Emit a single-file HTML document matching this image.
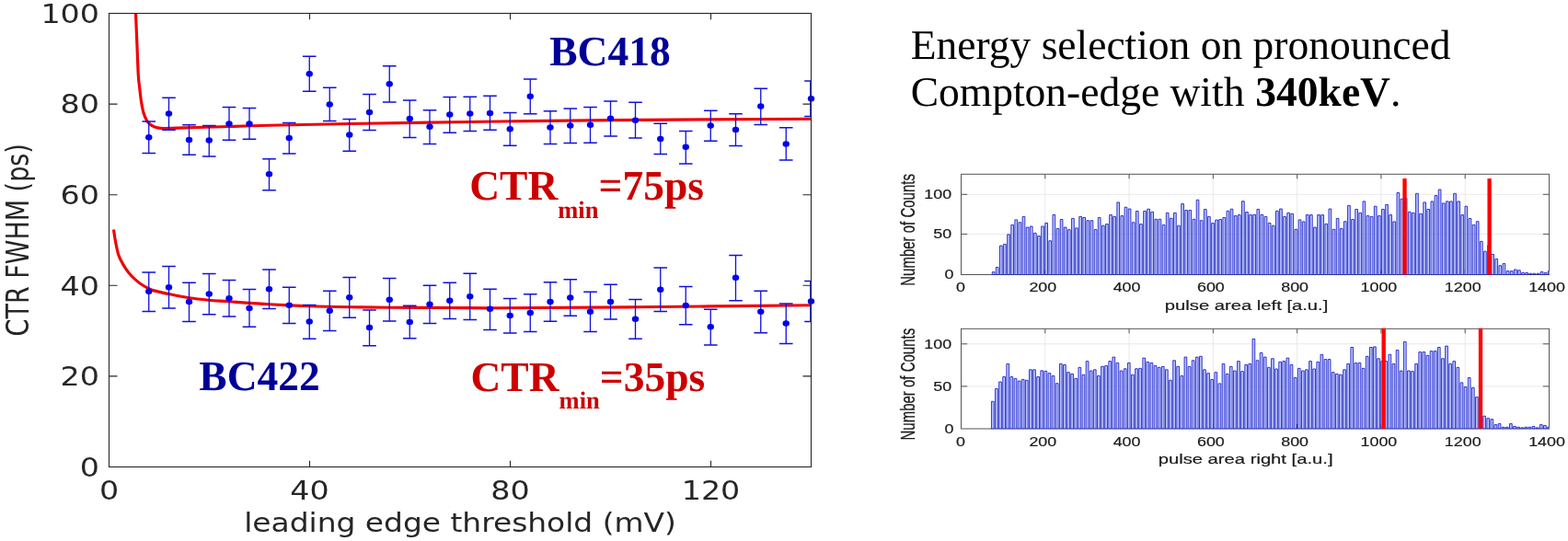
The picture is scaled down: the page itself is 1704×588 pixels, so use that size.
<!DOCTYPE html>
<html lang="en"><head><meta charset="utf-8"><title>CTR FWHM vs leading edge threshold</title>
<style>
html,body{margin:0;padding:0;background:#fff;}
body{width:1704px;height:588px;overflow:hidden;}
svg{display:block;}
</style></head><body>
<svg width="1704" height="588" viewBox="0 0 1704 588" role="img" aria-label="CTR FWHM versus leading edge threshold for BC418 and BC422, with pulse area histograms">
<rect width="1704" height="588" fill="#fff"/>
<defs><clipPath id="cl"><rect x="118.5" y="14.5" width="768.0" height="493.0"/></clipPath></defs>
<g stroke="#f00008" stroke-width="3.2" fill="none" stroke-linejoin="round">
<path d="M147.50,14.20C147.72,19.47 148.33,34.58 148.80,45.80C149.27,57.02 149.83,73.42 150.30,81.50C150.77,89.58 151.08,89.62 151.60,94.30C152.12,98.98 152.68,104.93 153.40,109.60C154.12,114.27 154.85,118.68 155.90,122.30C156.95,125.92 158.22,128.95 159.70,131.30C161.18,133.65 162.88,135.13 164.80,136.40C166.72,137.67 168.85,138.38 171.20,138.90C173.55,139.42 175.50,139.45 178.90,139.50C182.30,139.55 179.92,139.53 191.60,139.20C203.28,138.87 232.18,137.99 249.00,137.50C265.82,137.01 270.67,136.75 292.50,136.25C314.33,135.75 338.25,135.21 380.00,134.50C421.75,133.79 495.83,132.65 543.00,132.00C590.17,131.35 606.58,131.06 663.00,130.60C719.42,130.14 845.08,129.47 881.50,129.25"/>
<path d="M123.50,249.50C123.95,252.25 125.03,260.71 126.20,266.00C127.37,271.29 127.70,275.58 130.50,281.25C133.30,286.92 137.79,294.58 143.00,300.00C148.21,305.42 155.00,310.50 161.75,313.75C168.50,317.00 176.21,317.83 183.50,319.50C190.79,321.17 198.21,322.62 205.50,323.75C212.79,324.88 220.00,325.58 227.25,326.25C234.50,326.92 238.12,327.00 249.00,327.75C259.88,328.50 277.96,329.92 292.50,330.75C307.04,331.58 321.71,332.25 336.25,332.75C350.79,333.25 365.25,333.50 379.75,333.75C394.25,334.00 405.08,334.12 423.25,334.25C441.42,334.38 468.79,334.42 488.75,334.50C508.71,334.58 509.38,334.88 543.00,334.75C576.62,334.62 634.08,334.25 690.50,333.75C746.92,333.25 849.67,332.08 881.50,331.75"/>
</g>
<g stroke="#1010dc" stroke-width="1.3" fill="none">
<path d="M154.45,132.00H169.05M154.45,166.50H169.05M161.75,132.00V166.50"/>
<path d="M176.20,106.25H190.80M176.20,141.25H190.80M183.50,106.25V141.25"/>
<path d="M198.20,135.75H212.80M198.20,168.25H212.80M205.50,135.75V168.25"/>
<path d="M219.95,136.50H234.55M219.95,170.00H234.55M227.25,136.50V170.00"/>
<path d="M241.70,116.50H256.30M241.70,152.25H256.30M249.00,116.50V152.25"/>
<path d="M263.70,117.50H278.30M263.70,151.25H278.30M271.00,117.50V151.25"/>
<path d="M285.20,172.75H299.80M285.20,206.75H299.80M292.50,172.75V206.75"/>
<path d="M306.95,133.50H321.55M306.95,167.00H321.55M314.25,133.50V167.00"/>
<path d="M328.95,61.25H343.55M328.95,99.25H343.55M336.25,61.25V99.25"/>
<path d="M350.95,95.25H365.55M350.95,131.50H365.55M358.25,95.25V131.50"/>
<path d="M372.45,129.50H387.05M372.45,164.25H387.05M379.75,129.50V164.25"/>
<path d="M394.20,102.50H408.80M394.20,141.50H408.80M401.50,102.50V141.50"/>
<path d="M415.95,71.75H430.55M415.95,111.00H430.55M423.25,71.75V111.00"/>
<path d="M437.95,109.00H452.55M437.95,149.50H452.55M445.25,109.00V149.50"/>
<path d="M459.70,119.75H474.30M459.70,156.50H474.30M467.00,119.75V156.50"/>
<path d="M481.45,105.50H496.05M481.45,144.25H496.05M488.75,105.50V144.25"/>
<path d="M503.45,105.25H518.05M503.45,142.50H518.05M510.75,105.25V142.50"/>
<path d="M525.20,104.25H539.80M525.20,141.25H539.80M532.50,104.25V141.25"/>
<path d="M546.95,122.50H561.55M546.95,158.25H561.55M554.25,122.50V158.25"/>
<path d="M568.95,86.00H583.55M568.95,123.75H583.55M576.25,86.00V123.75"/>
<path d="M590.70,120.75H605.30M590.70,156.50H605.30M598.00,120.75V156.50"/>
<path d="M612.45,118.00H627.05M612.45,155.50H627.05M619.75,118.00V155.50"/>
<path d="M634.20,116.50H648.80M634.20,155.25H648.80M641.50,116.50V155.25"/>
<path d="M656.20,110.00H670.80M656.20,148.00H670.80M663.50,110.00V148.00"/>
<path d="M683.20,111.25H697.80M683.20,150.00H697.80M690.50,111.25V150.00"/>
<path d="M710.45,134.25H725.05M710.45,167.50H725.05M717.75,134.25V167.50"/>
<path d="M737.95,142.50H752.55M737.95,178.00H752.55M745.25,142.50V178.00"/>
<path d="M764.95,120.25H779.55M764.95,153.25H779.55M772.25,120.25V153.25"/>
<path d="M792.20,123.75H806.80M792.20,158.50H806.80M799.50,123.75V158.50"/>
<path d="M819.45,96.25H834.05M819.45,135.50H834.05M826.75,96.25V135.50"/>
<path d="M846.95,138.75H861.55M846.95,174.00H861.55M854.25,138.75V174.00"/>
<path d="M874.20,88.00H881.50M874.20,126.50H881.50M880.80,88.00V126.50"/>
<path d="M154.45,296.00H169.05M154.45,338.50H169.05M161.75,296.00V338.50"/>
<path d="M176.20,289.50H190.80M176.20,335.00H190.80M183.50,289.50V335.00"/>
<path d="M198.20,307.25H212.80M198.20,349.50H212.80M205.50,307.25V349.50"/>
<path d="M219.95,297.50H234.55M219.95,341.75H234.55M227.25,297.50V341.75"/>
<path d="M241.70,304.50H256.30M241.70,344.00H256.30M249.00,304.50V344.00"/>
<path d="M263.70,314.50H278.30M263.70,355.25H278.30M271.00,314.50V355.25"/>
<path d="M285.20,293.00H299.80M285.20,335.50H299.80M292.50,293.00V335.50"/>
<path d="M306.95,312.25H321.55M306.95,351.50H321.55M314.25,312.25V351.50"/>
<path d="M328.95,331.50H343.55M328.95,368.25H343.55M336.25,331.50V368.25"/>
<path d="M350.95,316.25H365.55M350.95,359.50H365.55M358.25,316.25V359.50"/>
<path d="M372.45,301.50H387.05M372.45,345.25H387.05M379.75,301.50V345.25"/>
<path d="M394.20,337.00H408.80M394.20,375.75H408.80M401.50,337.00V375.75"/>
<path d="M415.95,302.50H430.55M415.95,349.00H430.55M423.25,302.50V349.00"/>
<path d="M437.95,332.25H452.55M437.95,367.75H452.55M445.25,332.25V367.75"/>
<path d="M459.70,310.25H474.30M459.70,351.50H474.30M467.00,310.25V351.50"/>
<path d="M481.45,307.25H496.05M481.45,346.50H496.05M488.75,307.25V346.50"/>
<path d="M503.45,297.25H518.05M503.45,347.50H518.05M510.75,297.25V347.50"/>
<path d="M525.20,314.25H539.80M525.20,358.50H539.80M532.50,314.25V358.50"/>
<path d="M546.95,324.50H561.55M546.95,362.00H561.55M554.25,324.50V362.00"/>
<path d="M568.95,319.75H583.55M568.95,360.50H583.55M576.25,319.75V360.50"/>
<path d="M590.70,306.75H605.30M590.70,349.25H605.30M598.00,306.75V349.25"/>
<path d="M612.45,303.75H627.05M612.45,343.25H627.05M619.75,303.75V343.25"/>
<path d="M634.20,317.25H648.80M634.20,360.50H648.80M641.50,317.25V360.50"/>
<path d="M656.20,309.25H670.80M656.20,347.00H670.80M663.50,309.25V347.00"/>
<path d="M683.20,325.50H697.80M683.20,368.25H697.80M690.50,325.50V368.25"/>
<path d="M710.45,291.00H725.05M710.45,338.50H725.05M717.75,291.00V338.50"/>
<path d="M737.95,311.50H752.55M737.95,352.75H752.55M745.25,311.50V352.75"/>
<path d="M764.95,336.25H779.55M764.95,375.00H779.55M772.25,336.25V375.00"/>
<path d="M792.20,277.50H806.80M792.20,326.75H806.80M799.50,277.50V326.75"/>
<path d="M819.45,316.25H834.05M819.45,361.75H834.05M826.75,316.25V361.75"/>
<path d="M846.95,330.00H861.55M846.95,373.50H861.55M854.25,330.00V373.50"/>
<path d="M874.20,305.50H881.50M874.20,349.50H881.50M880.80,305.50V349.50"/>
</g>
<g fill="#0000f0">
<ellipse cx="161.75" cy="149.25" rx="3.7" ry="3.2"/>
<ellipse cx="183.50" cy="123.50" rx="3.7" ry="3.2"/>
<ellipse cx="205.50" cy="152.00" rx="3.7" ry="3.2"/>
<ellipse cx="227.25" cy="152.50" rx="3.7" ry="3.2"/>
<ellipse cx="249.00" cy="134.50" rx="3.7" ry="3.2"/>
<ellipse cx="271.00" cy="134.50" rx="3.7" ry="3.2"/>
<ellipse cx="292.50" cy="189.25" rx="3.7" ry="3.2"/>
<ellipse cx="314.25" cy="150.00" rx="3.7" ry="3.2"/>
<ellipse cx="336.25" cy="80.25" rx="3.7" ry="3.2"/>
<ellipse cx="358.25" cy="113.50" rx="3.7" ry="3.2"/>
<ellipse cx="379.75" cy="146.50" rx="3.7" ry="3.2"/>
<ellipse cx="401.50" cy="122.00" rx="3.7" ry="3.2"/>
<ellipse cx="423.25" cy="91.25" rx="3.7" ry="3.2"/>
<ellipse cx="445.25" cy="129.00" rx="3.7" ry="3.2"/>
<ellipse cx="467.00" cy="137.75" rx="3.7" ry="3.2"/>
<ellipse cx="488.75" cy="124.50" rx="3.7" ry="3.2"/>
<ellipse cx="510.75" cy="123.50" rx="3.7" ry="3.2"/>
<ellipse cx="532.50" cy="123.00" rx="3.7" ry="3.2"/>
<ellipse cx="554.25" cy="140.25" rx="3.7" ry="3.2"/>
<ellipse cx="576.25" cy="104.75" rx="3.7" ry="3.2"/>
<ellipse cx="598.00" cy="138.50" rx="3.7" ry="3.2"/>
<ellipse cx="619.75" cy="136.50" rx="3.7" ry="3.2"/>
<ellipse cx="641.50" cy="135.75" rx="3.7" ry="3.2"/>
<ellipse cx="663.50" cy="128.75" rx="3.7" ry="3.2"/>
<ellipse cx="690.50" cy="130.75" rx="3.7" ry="3.2"/>
<ellipse cx="717.75" cy="151.00" rx="3.7" ry="3.2"/>
<ellipse cx="745.25" cy="159.75" rx="3.7" ry="3.2"/>
<ellipse cx="772.25" cy="136.50" rx="3.7" ry="3.2"/>
<ellipse cx="799.50" cy="141.00" rx="3.7" ry="3.2"/>
<ellipse cx="826.75" cy="115.50" rx="3.7" ry="3.2"/>
<ellipse cx="854.25" cy="156.50" rx="3.7" ry="3.2"/>
<ellipse cx="881.50" cy="107.25" rx="3.7" ry="3.2"/>
<ellipse cx="161.75" cy="316.75" rx="3.7" ry="3.2"/>
<ellipse cx="183.50" cy="312.25" rx="3.7" ry="3.2"/>
<ellipse cx="205.50" cy="328.00" rx="3.7" ry="3.2"/>
<ellipse cx="227.25" cy="319.50" rx="3.7" ry="3.2"/>
<ellipse cx="249.00" cy="324.25" rx="3.7" ry="3.2"/>
<ellipse cx="271.00" cy="335.00" rx="3.7" ry="3.2"/>
<ellipse cx="292.50" cy="314.25" rx="3.7" ry="3.2"/>
<ellipse cx="314.25" cy="331.75" rx="3.7" ry="3.2"/>
<ellipse cx="336.25" cy="349.50" rx="3.7" ry="3.2"/>
<ellipse cx="358.25" cy="337.75" rx="3.7" ry="3.2"/>
<ellipse cx="379.75" cy="323.25" rx="3.7" ry="3.2"/>
<ellipse cx="401.50" cy="356.00" rx="3.7" ry="3.2"/>
<ellipse cx="423.25" cy="325.75" rx="3.7" ry="3.2"/>
<ellipse cx="445.25" cy="350.00" rx="3.7" ry="3.2"/>
<ellipse cx="467.00" cy="330.75" rx="3.7" ry="3.2"/>
<ellipse cx="488.75" cy="326.75" rx="3.7" ry="3.2"/>
<ellipse cx="510.75" cy="322.25" rx="3.7" ry="3.2"/>
<ellipse cx="532.50" cy="335.75" rx="3.7" ry="3.2"/>
<ellipse cx="554.25" cy="343.00" rx="3.7" ry="3.2"/>
<ellipse cx="576.25" cy="340.00" rx="3.7" ry="3.2"/>
<ellipse cx="598.00" cy="328.00" rx="3.7" ry="3.2"/>
<ellipse cx="619.75" cy="323.50" rx="3.7" ry="3.2"/>
<ellipse cx="641.50" cy="338.75" rx="3.7" ry="3.2"/>
<ellipse cx="663.50" cy="328.00" rx="3.7" ry="3.2"/>
<ellipse cx="690.50" cy="346.75" rx="3.7" ry="3.2"/>
<ellipse cx="717.75" cy="314.75" rx="3.7" ry="3.2"/>
<ellipse cx="745.25" cy="332.00" rx="3.7" ry="3.2"/>
<ellipse cx="772.25" cy="355.25" rx="3.7" ry="3.2"/>
<ellipse cx="799.50" cy="301.75" rx="3.7" ry="3.2"/>
<ellipse cx="826.75" cy="338.75" rx="3.7" ry="3.2"/>
<ellipse cx="854.25" cy="351.50" rx="3.7" ry="3.2"/>
<ellipse cx="881.50" cy="327.50" rx="3.7" ry="3.2"/>
</g>
<g stroke="#262626" stroke-width="1.1" fill="none">
<rect x="118.5" y="14.5" width="763.0" height="493.0"/>
<path d="M336.50,507.5v-6.8M336.50,14.5v6.8M554.50,507.5v-6.8M554.50,14.5v6.8M772.50,507.5v-6.8M772.50,14.5v6.8M118.5,408.90h9M881.5,408.90h-9M118.5,310.30h9M881.5,310.30h-9M118.5,211.70h9M881.5,211.70h-9M118.5,113.10h9M881.5,113.10h-9"/>
</g>
<g font-family="'DejaVu Sans', sans-serif" font-size="28.5" fill="#262626">
<text transform="translate(108.0,517.80) scale(1.17,1)" text-anchor="end">0</text>
<text transform="translate(108.0,419.20) scale(1.17,1)" text-anchor="end">20</text>
<text transform="translate(108.0,320.60) scale(1.17,1)" text-anchor="end">40</text>
<text transform="translate(108.0,222.00) scale(1.17,1)" text-anchor="end">60</text>
<text transform="translate(108.0,123.40) scale(1.17,1)" text-anchor="end">80</text>
<text transform="translate(108.0,24.80) scale(1.17,1)" text-anchor="end">100</text>
<text transform="translate(118.50,543.3) scale(1.17,1)" text-anchor="middle">0</text>
<text transform="translate(336.50,543.3) scale(1.17,1)" text-anchor="middle">40</text>
<text transform="translate(554.50,543.3) scale(1.17,1)" text-anchor="middle">80</text>
<text transform="translate(772.50,543.3) scale(1.17,1)" text-anchor="middle">120</text>
<text transform="translate(500,578) scale(1.15,1)" font-size="28.6" text-anchor="middle">leading edge threshold (mV)</text>
<text transform="translate(30.8,260.8) rotate(-90) scale(1,1.22)" font-size="27" text-anchor="middle">CTR FWHM (ps)</text>
</g>
<g font-family="'Liberation Serif', serif" font-weight="bold" font-size="45.5" text-rendering="geometricPrecision">
<text transform="translate(597.2,71.0) scale(1,1.006)" fill="#000099">BC418</text>
<text transform="translate(216.3,424.3) scale(1,1.006)" fill="#000099">BC422</text>
<text transform="translate(510.2,216.9) scale(1,1.006)" fill="#cc0000">CTR<tspan font-size="26.5" dy="19.7">min</tspan><tspan dy="-19.7" dx="0">=75ps</tspan></text>
<text transform="translate(511.5,424.8) scale(1,1.006)" fill="#cc0000">CTR<tspan font-size="26.5" dy="18.8">min</tspan><tspan dy="-18.8" dx="0">=35ps</tspan></text>
</g>
<g font-family="'Liberation Serif', serif" font-size="45.5" fill="#000" text-rendering="geometricPrecision">
<text transform="translate(989.7,64.2) scale(1,1.0)">Energy selection on pronounced</text>
<text transform="translate(989.7,114.8) scale(1,1.0)">Compton-edge with <tspan font-weight="bold" dx="0.6">340keV</tspan>.</text>
</g>
<g>
<path d="M1135.79,189.3V298.5M1227.07,189.3V298.5M1318.36,189.3V298.5M1409.64,189.3V298.5M1500.93,189.3V298.5M1592.21,189.3V298.5M1044.5,254.4H1683.5M1044.5,211.3H1683.5" stroke="#e9e9e9" stroke-width="1" fill="none"/>
<g stroke="#555555" stroke-width="1" fill="none">
<rect x="1044.5" y="189.3" width="639.0" height="109.19999999999999"/>
<path d="M1135.79,189.3v5M1135.79,298.5v-5M1227.07,189.3v5M1227.07,298.5v-5M1318.36,189.3v5M1318.36,298.5v-5M1409.64,189.3v5M1409.64,298.5v-5M1500.93,189.3v5M1500.93,298.5v-5M1592.21,189.3v5M1592.21,298.5v-5M1044.5,254.4h6.7M1683.5,254.4h-6.7M1044.5,211.3h6.7M1683.5,211.3h-6.7"/>
</g>
<clipPath id="ct"><rect x="1044.5" y="183.3" width="639.0" height="115.79999999999998"/></clipPath>
<g clip-path="url(#ct)">
<g fill="#b8c8ff" stroke="#1414c4" stroke-width="0.85">
<path d="M1078.25,298.5V295.61h2.7V298.5zM1082.36,298.5V290.51h2.7V298.5zM1086.47,298.5V267.04h2.7V298.5zM1090.58,298.5V265.41h2.7V298.5zM1094.69,298.5V254.80h2.7V298.5zM1098.80,298.5V244.39h2.7V298.5zM1102.91,298.5V238.88h2.7V298.5zM1107.02,298.5V241.73h2.7V298.5zM1111.13,298.5V235.41h2.7V298.5zM1115.24,298.5V247.04h2.7V298.5zM1119.35,298.5V246.02h2.7V298.5zM1123.46,298.5V253.37h2.7V298.5zM1127.57,298.5V256.43h2.7V298.5zM1131.68,298.5V246.02h2.7V298.5zM1135.79,298.5V242.35h2.7V298.5zM1139.90,298.5V261.73h2.7V298.5zM1144.01,298.5V233.37h2.7V298.5zM1148.12,298.5V248.47h2.7V298.5zM1152.23,298.5V238.47h2.7V298.5zM1156.34,298.5V247.04h2.7V298.5zM1160.45,298.5V249.69h2.7V298.5zM1164.56,298.5V237.45h2.7V298.5zM1168.67,298.5V247.86h2.7V298.5zM1172.78,298.5V235.41h2.7V298.5zM1176.89,298.5V236.43h2.7V298.5zM1181.00,298.5V239.69h2.7V298.5zM1185.11,298.5V239.69h2.7V298.5zM1189.22,298.5V249.49h2.7V298.5zM1193.33,298.5V236.43h2.7V298.5zM1197.44,298.5V245.20h2.7V298.5zM1201.55,298.5V243.57h2.7V298.5zM1205.66,298.5V233.57h2.7V298.5zM1209.77,298.5V235.41h2.7V298.5zM1213.88,298.5V219.90h2.7V298.5zM1217.99,298.5V234.59h2.7V298.5zM1222.10,298.5V225.20h2.7V298.5zM1226.21,298.5V227.04h2.7V298.5zM1230.32,298.5V241.73h2.7V298.5zM1234.43,298.5V229.49h2.7V298.5zM1238.54,298.5V243.57h2.7V298.5zM1242.65,298.5V229.49h2.7V298.5zM1246.76,298.5V227.24h2.7V298.5zM1250.87,298.5V230.31h2.7V298.5zM1254.98,298.5V238.27h2.7V298.5zM1259.09,298.5V238.27h2.7V298.5zM1263.20,298.5V244.39h2.7V298.5zM1267.31,298.5V231.33h2.7V298.5zM1271.42,298.5V237.24h2.7V298.5zM1275.53,298.5V231.33h2.7V298.5zM1279.64,298.5V245.20h2.7V298.5zM1283.75,298.5V221.53h2.7V298.5zM1287.86,298.5V228.47h2.7V298.5zM1291.97,298.5V228.47h2.7V298.5zM1296.08,298.5V238.27h2.7V298.5zM1300.19,298.5V217.24h2.7V298.5zM1304.30,298.5V239.69h2.7V298.5zM1308.41,298.5V227.45h2.7V298.5zM1312.52,298.5V235.41h2.7V298.5zM1316.63,298.5V242.55h2.7V298.5zM1320.74,298.5V239.08h2.7V298.5zM1324.85,298.5V238.47h2.7V298.5zM1328.96,298.5V236.43h2.7V298.5zM1333.07,298.5V229.29h2.7V298.5zM1337.18,298.5V227.24h2.7V298.5zM1341.29,298.5V234.59h2.7V298.5zM1345.40,298.5V233.57h2.7V298.5zM1349.51,298.5V218.67h2.7V298.5zM1353.62,298.5V230.51h2.7V298.5zM1357.73,298.5V233.57h2.7V298.5zM1361.84,298.5V233.37h2.7V298.5zM1365.95,298.5V227.45h2.7V298.5zM1370.06,298.5V233.37h2.7V298.5zM1374.17,298.5V235.41h2.7V298.5zM1378.28,298.5V242.35h2.7V298.5zM1382.39,298.5V245.20h2.7V298.5zM1386.50,298.5V229.29h2.7V298.5zM1390.61,298.5V227.04h2.7V298.5zM1394.72,298.5V235.41h2.7V298.5zM1398.83,298.5V231.33h2.7V298.5zM1402.94,298.5V232.35h2.7V298.5zM1407.05,298.5V249.29h2.7V298.5zM1411.16,298.5V238.88h2.7V298.5zM1415.27,298.5V240.92h2.7V298.5zM1419.38,298.5V233.57h2.7V298.5zM1423.49,298.5V233.57h2.7V298.5zM1427.60,298.5V247.04h2.7V298.5zM1431.71,298.5V233.57h2.7V298.5zM1435.82,298.5V233.57h2.7V298.5zM1439.93,298.5V243.37h2.7V298.5zM1444.04,298.5V227.04h2.7V298.5zM1448.15,298.5V249.29h2.7V298.5zM1452.26,298.5V237.45h2.7V298.5zM1456.37,298.5V248.47h2.7V298.5zM1460.48,298.5V240.71h2.7V298.5zM1464.59,298.5V223.37h2.7V298.5zM1468.70,298.5V238.47h2.7V298.5zM1472.81,298.5V227.45h2.7V298.5zM1476.92,298.5V231.33h2.7V298.5zM1481.03,298.5V218.88h2.7V298.5zM1485.14,298.5V234.59h2.7V298.5zM1489.25,298.5V235.41h2.7V298.5zM1493.36,298.5V224.18h2.7V298.5zM1497.47,298.5V234.59h2.7V298.5zM1501.58,298.5V227.45h2.7V298.5zM1505.69,298.5V222.35h2.7V298.5zM1509.80,298.5V233.57h2.7V298.5zM1513.91,298.5V240.92h2.7V298.5zM1518.02,298.5V209.49h2.7V298.5zM1522.13,298.5V216.22h2.7V298.5zM1526.24,298.5V215.61h2.7V298.5zM1530.35,298.5V230.31h2.7V298.5zM1534.46,298.5V231.33h2.7V298.5zM1538.57,298.5V210.31h2.7V298.5zM1542.68,298.5V232.35h2.7V298.5zM1546.79,298.5V219.90h2.7V298.5zM1550.90,298.5V227.45h2.7V298.5zM1555.01,298.5V218.88h2.7V298.5zM1559.12,298.5V212.55h2.7V298.5zM1563.23,298.5V206.02h2.7V298.5zM1567.34,298.5V220.92h2.7V298.5zM1571.45,298.5V218.88h2.7V298.5zM1575.56,298.5V218.88h2.7V298.5zM1579.67,298.5V210.31h2.7V298.5zM1583.78,298.5V218.88h2.7V298.5zM1587.89,298.5V233.57h2.7V298.5zM1592.00,298.5V224.18h2.7V298.5zM1596.11,298.5V237.45h2.7V298.5zM1600.22,298.5V244.39h2.7V298.5zM1604.33,298.5V240.71h2.7V298.5zM1608.44,298.5V262.35h2.7V298.5zM1612.55,298.5V273.16h2.7V298.5zM1616.66,298.5V266.63h2.7V298.5zM1620.77,298.5V276.43h2.7V298.5zM1624.88,298.5V281.53h2.7V298.5zM1628.99,298.5V288.67h2.7V298.5zM1633.10,298.5V286.43h2.7V298.5zM1637.21,298.5V294.59h2.7V298.5zM1641.32,298.5V294.59h2.7V298.5zM1645.43,298.5V292.96h2.7V298.5zM1649.54,298.5V293.78h2.7V298.5zM1653.65,298.5V296.43h2.7V298.5zM1657.76,298.5V296.43h2.7V298.5zM1661.87,298.5V297.24h2.7V298.5zM1665.98,298.5V297.24h2.7V298.5zM1670.09,298.5V297.24h2.7V298.5zM1674.20,298.5V295.41h2.7V298.5zM1678.31,298.5V296.43h2.7V298.5zM1682.42,298.5V294.59h2.7V298.5z"/>
</g>
<rect x="1524.35" y="194" width="4.3" height="104.50" fill="#ff0000"/>
<rect x="1616.45" y="194" width="4.3" height="104.50" fill="#ff0000"/>
</g>
<g font-family="'Liberation Sans', sans-serif" font-size="14" fill="#1c1c1c" stroke="#1c1c1c" stroke-width="0.2">
<text transform="translate(1036.5,303.3) scale(1.275,1)" text-anchor="end">0</text>
<text transform="translate(1034.1,259.2) scale(1.275,1)" text-anchor="end">50</text>
<text transform="translate(1034.1,216.10000000000002) scale(1.275,1)" text-anchor="end">100</text>
<text transform="translate(1043.90,316.9) scale(1.275,1)" text-anchor="middle">0</text>
<text transform="translate(1133.29,316.9) scale(1.275,1)" text-anchor="middle">200</text>
<text transform="translate(1224.57,316.9) scale(1.275,1)" text-anchor="middle">400</text>
<text transform="translate(1315.86,316.9) scale(1.275,1)" text-anchor="middle">600</text>
<text transform="translate(1407.14,316.9) scale(1.275,1)" text-anchor="middle">800</text>
<text transform="translate(1498.43,316.9) scale(1.275,1)" text-anchor="middle">1000</text>
<text transform="translate(1589.71,316.9) scale(1.275,1)" text-anchor="middle">1200</text>
<text transform="translate(1681.00,316.9) scale(1.275,1)" text-anchor="middle">1400</text>
<text transform="translate(1354.6,336.5) scale(1.414,1)" font-size="14.3" text-anchor="middle">pulse area left [a.u.]</text>
<text transform="translate(994.0,249.9) rotate(-90) scale(1,1.43)" font-size="15" text-anchor="middle">Number of Counts</text>
</g>
</g>
<g>
<path d="M1135.79,357.3V466.0M1227.07,357.3V466.0M1318.36,357.3V466.0M1409.64,357.3V466.0M1500.93,357.3V466.0M1592.21,357.3V466.0M1044.5,419.9H1683.5M1044.5,373.8H1683.5" stroke="#e9e9e9" stroke-width="1" fill="none"/>
<g stroke="#555555" stroke-width="1" fill="none">
<rect x="1044.5" y="357.3" width="639.0" height="108.69999999999999"/>
<path d="M1135.79,357.3v5M1135.79,466.0v-5M1227.07,357.3v5M1227.07,466.0v-5M1318.36,357.3v5M1318.36,466.0v-5M1409.64,357.3v5M1409.64,466.0v-5M1500.93,357.3v5M1500.93,466.0v-5M1592.21,357.3v5M1592.21,466.0v-5M1044.5,419.9h6.7M1683.5,419.9h-6.7M1044.5,373.8h6.7M1683.5,373.8h-6.7"/>
</g>
<clipPath id="cb"><rect x="1044.5" y="351.3" width="639.0" height="115.29999999999998"/></clipPath>
<g clip-path="url(#cb)">
<g fill="#b8c8ff" stroke="#1414c4" stroke-width="0.85">
<path d="M1077.45,466.0V436.29h2.7V466.0zM1081.56,466.0V422.41h2.7V466.0zM1085.67,466.0V415.06h2.7V466.0zM1089.78,466.0V409.55h2.7V466.0zM1093.89,466.0V395.47h2.7V466.0zM1098.00,466.0V409.55h2.7V466.0zM1102.11,466.0V411.39h2.7V466.0zM1106.22,466.0V414.04h2.7V466.0zM1110.33,466.0V412.41h2.7V466.0zM1114.44,466.0V413.22h2.7V466.0zM1118.55,466.0V401.80h2.7V466.0zM1122.66,466.0V401.80h2.7V466.0zM1126.77,466.0V409.55h2.7V466.0zM1130.88,466.0V402.82h2.7V466.0zM1134.99,466.0V403.43h2.7V466.0zM1139.10,466.0V405.67h2.7V466.0zM1143.21,466.0V408.53h2.7V466.0zM1147.32,466.0V416.69h2.7V466.0zM1151.43,466.0V395.47h2.7V466.0zM1155.54,466.0V396.49h2.7V466.0zM1159.65,466.0V404.65h2.7V466.0zM1163.76,466.0V406.49h2.7V466.0zM1167.87,466.0V411.39h2.7V466.0zM1171.98,466.0V399.35h2.7V466.0zM1176.09,466.0V407.31h2.7V466.0zM1180.20,466.0V392.61h2.7V466.0zM1184.31,466.0V403.02h2.7V466.0zM1188.42,466.0V401.80h2.7V466.0zM1192.53,466.0V408.53h2.7V466.0zM1196.64,466.0V398.33h2.7V466.0zM1200.75,466.0V397.51h2.7V466.0zM1204.86,466.0V392.61h2.7V466.0zM1208.97,466.0V388.12h2.7V466.0zM1213.08,466.0V394.45h2.7V466.0zM1217.19,466.0V403.02h2.7V466.0zM1221.30,466.0V400.78h2.7V466.0zM1225.41,466.0V394.45h2.7V466.0zM1229.52,466.0V407.31h2.7V466.0zM1233.63,466.0V400.78h2.7V466.0zM1237.74,466.0V400.37h2.7V466.0zM1241.85,466.0V389.14h2.7V466.0zM1245.96,466.0V393.43h2.7V466.0zM1250.07,466.0V394.45h2.7V466.0zM1254.18,466.0V397.51h2.7V466.0zM1258.29,466.0V399.35h2.7V466.0zM1262.40,466.0V398.33h2.7V466.0zM1266.51,466.0V401.80h2.7V466.0zM1270.62,466.0V413.22h2.7V466.0zM1274.73,466.0V391.80h2.7V466.0zM1278.84,466.0V398.33h2.7V466.0zM1282.95,466.0V408.53h2.7V466.0zM1287.06,466.0V388.12h2.7V466.0zM1291.17,466.0V398.33h2.7V466.0zM1295.28,466.0V391.80h2.7V466.0zM1299.39,466.0V388.12h2.7V466.0zM1303.50,466.0V387.31h2.7V466.0zM1307.61,466.0V401.80h2.7V466.0zM1311.72,466.0V405.67h2.7V466.0zM1315.83,466.0V412.41h2.7V466.0zM1319.94,466.0V404.65h2.7V466.0zM1324.05,466.0V416.90h2.7V466.0zM1328.16,466.0V395.47h2.7V466.0zM1332.27,466.0V406.49h2.7V466.0zM1336.38,466.0V398.33h2.7V466.0zM1340.49,466.0V403.02h2.7V466.0zM1344.60,466.0V392.61h2.7V466.0zM1348.71,466.0V403.63h2.7V466.0zM1352.82,466.0V396.49h2.7V466.0zM1356.93,466.0V395.47h2.7V466.0zM1361.04,466.0V368.33h2.7V466.0zM1365.15,466.0V391.80h2.7V466.0zM1369.26,466.0V383.43h2.7V466.0zM1373.37,466.0V388.12h2.7V466.0zM1377.48,466.0V399.35h2.7V466.0zM1381.59,466.0V389.76h2.7V466.0zM1385.70,466.0V400.98h2.7V466.0zM1389.81,466.0V393.43h2.7V466.0zM1393.92,466.0V392.61h2.7V466.0zM1398.03,466.0V389.14h2.7V466.0zM1402.14,466.0V396.49h2.7V466.0zM1406.25,466.0V410.37h2.7V466.0zM1410.36,466.0V400.37h2.7V466.0zM1414.47,466.0V403.02h2.7V466.0zM1418.58,466.0V401.80h2.7V466.0zM1422.69,466.0V392.61h2.7V466.0zM1426.80,466.0V400.98h2.7V466.0zM1430.91,466.0V393.43h2.7V466.0zM1435.02,466.0V385.27h2.7V466.0zM1439.13,466.0V390.57h2.7V466.0zM1443.24,466.0V390.57h2.7V466.0zM1447.35,466.0V404.65h2.7V466.0zM1451.46,466.0V406.49h2.7V466.0zM1455.57,466.0V407.31h2.7V466.0zM1459.68,466.0V401.80h2.7V466.0zM1463.79,466.0V395.47h2.7V466.0zM1467.90,466.0V377.51h2.7V466.0zM1472.01,466.0V394.45h2.7V466.0zM1476.12,466.0V394.45h2.7V466.0zM1480.23,466.0V400.37h2.7V466.0zM1484.34,466.0V387.31h2.7V466.0zM1488.45,466.0V377.51h2.7V466.0zM1492.56,466.0V376.90h2.7V466.0zM1496.67,466.0V389.76h2.7V466.0zM1500.78,466.0V392.61h2.7V466.0zM1504.89,466.0V392.61h2.7V466.0zM1509.00,466.0V385.27h2.7V466.0zM1513.11,466.0V395.47h2.7V466.0zM1517.22,466.0V380.57h2.7V466.0zM1521.33,466.0V403.02h2.7V466.0zM1525.44,466.0V371.39h2.7V466.0zM1529.55,466.0V403.02h2.7V466.0zM1533.66,466.0V403.63h2.7V466.0zM1537.77,466.0V395.47h2.7V466.0zM1541.88,466.0V382.61h2.7V466.0zM1545.99,466.0V382.61h2.7V466.0zM1550.10,466.0V386.29h2.7V466.0zM1554.21,466.0V381.59h2.7V466.0zM1558.32,466.0V381.59h2.7V466.0zM1562.43,466.0V377.51h2.7V466.0zM1566.54,466.0V389.76h2.7V466.0zM1570.65,466.0V376.08h2.7V466.0zM1574.76,466.0V395.47h2.7V466.0zM1578.87,466.0V392.61h2.7V466.0zM1582.98,466.0V399.35h2.7V466.0zM1587.09,466.0V415.88h2.7V466.0zM1591.20,466.0V420.57h2.7V466.0zM1595.31,466.0V410.57h2.7V466.0zM1599.42,466.0V421.39h2.7V466.0zM1603.53,466.0V431.59h2.7V466.0zM1607.64,466.0V441.80h2.7V466.0zM1611.75,466.0V452.20h2.7V466.0zM1615.86,466.0V454.65h2.7V466.0zM1619.97,466.0V455.67h2.7V466.0zM1624.08,466.0V461.59h2.7V466.0zM1628.19,466.0V460.57h2.7V466.0zM1632.30,466.0V464.24h2.7V466.0zM1636.41,466.0V464.24h2.7V466.0zM1640.52,466.0V460.57h2.7V466.0zM1644.63,466.0V463.43h2.7V466.0zM1648.74,466.0V464.24h2.7V466.0zM1652.85,466.0V464.86h2.7V466.0zM1656.96,466.0V464.24h2.7V466.0zM1661.07,466.0V464.24h2.7V466.0zM1665.18,466.0V463.43h2.7V466.0zM1669.29,466.0V464.86h2.7V466.0zM1673.40,466.0V461.59h2.7V466.0zM1677.51,466.0V462.41h2.7V466.0zM1681.62,466.0V464.24h2.7V466.0z"/>
</g>
<rect x="1501.55" y="356.8" width="4.3" height="109.20" fill="#ff0000"/>
<rect x="1606.85" y="356.8" width="4.3" height="109.20" fill="#ff0000"/>
</g>
<g font-family="'Liberation Sans', sans-serif" font-size="14" fill="#1c1c1c" stroke="#1c1c1c" stroke-width="0.2">
<text transform="translate(1036.5,470.8) scale(1.275,1)" text-anchor="end">0</text>
<text transform="translate(1034.1,424.7) scale(1.275,1)" text-anchor="end">50</text>
<text transform="translate(1034.1,378.6) scale(1.275,1)" text-anchor="end">100</text>
<text transform="translate(1043.90,484.9) scale(1.275,1)" text-anchor="middle">0</text>
<text transform="translate(1133.29,484.9) scale(1.275,1)" text-anchor="middle">200</text>
<text transform="translate(1224.57,484.9) scale(1.275,1)" text-anchor="middle">400</text>
<text transform="translate(1315.86,484.9) scale(1.275,1)" text-anchor="middle">600</text>
<text transform="translate(1407.14,484.9) scale(1.275,1)" text-anchor="middle">800</text>
<text transform="translate(1498.43,484.9) scale(1.275,1)" text-anchor="middle">1000</text>
<text transform="translate(1589.71,484.9) scale(1.275,1)" text-anchor="middle">1200</text>
<text transform="translate(1681.00,484.9) scale(1.275,1)" text-anchor="middle">1400</text>
<text transform="translate(1353.6,504.0) scale(1.414,1)" font-size="14.3" text-anchor="middle">pulse area right [a.u.]</text>
<text transform="translate(994.0,417.65) rotate(-90) scale(1,1.43)" font-size="15" text-anchor="middle">Number of Counts</text>
</g>
</g>
</svg>
</body></html>
